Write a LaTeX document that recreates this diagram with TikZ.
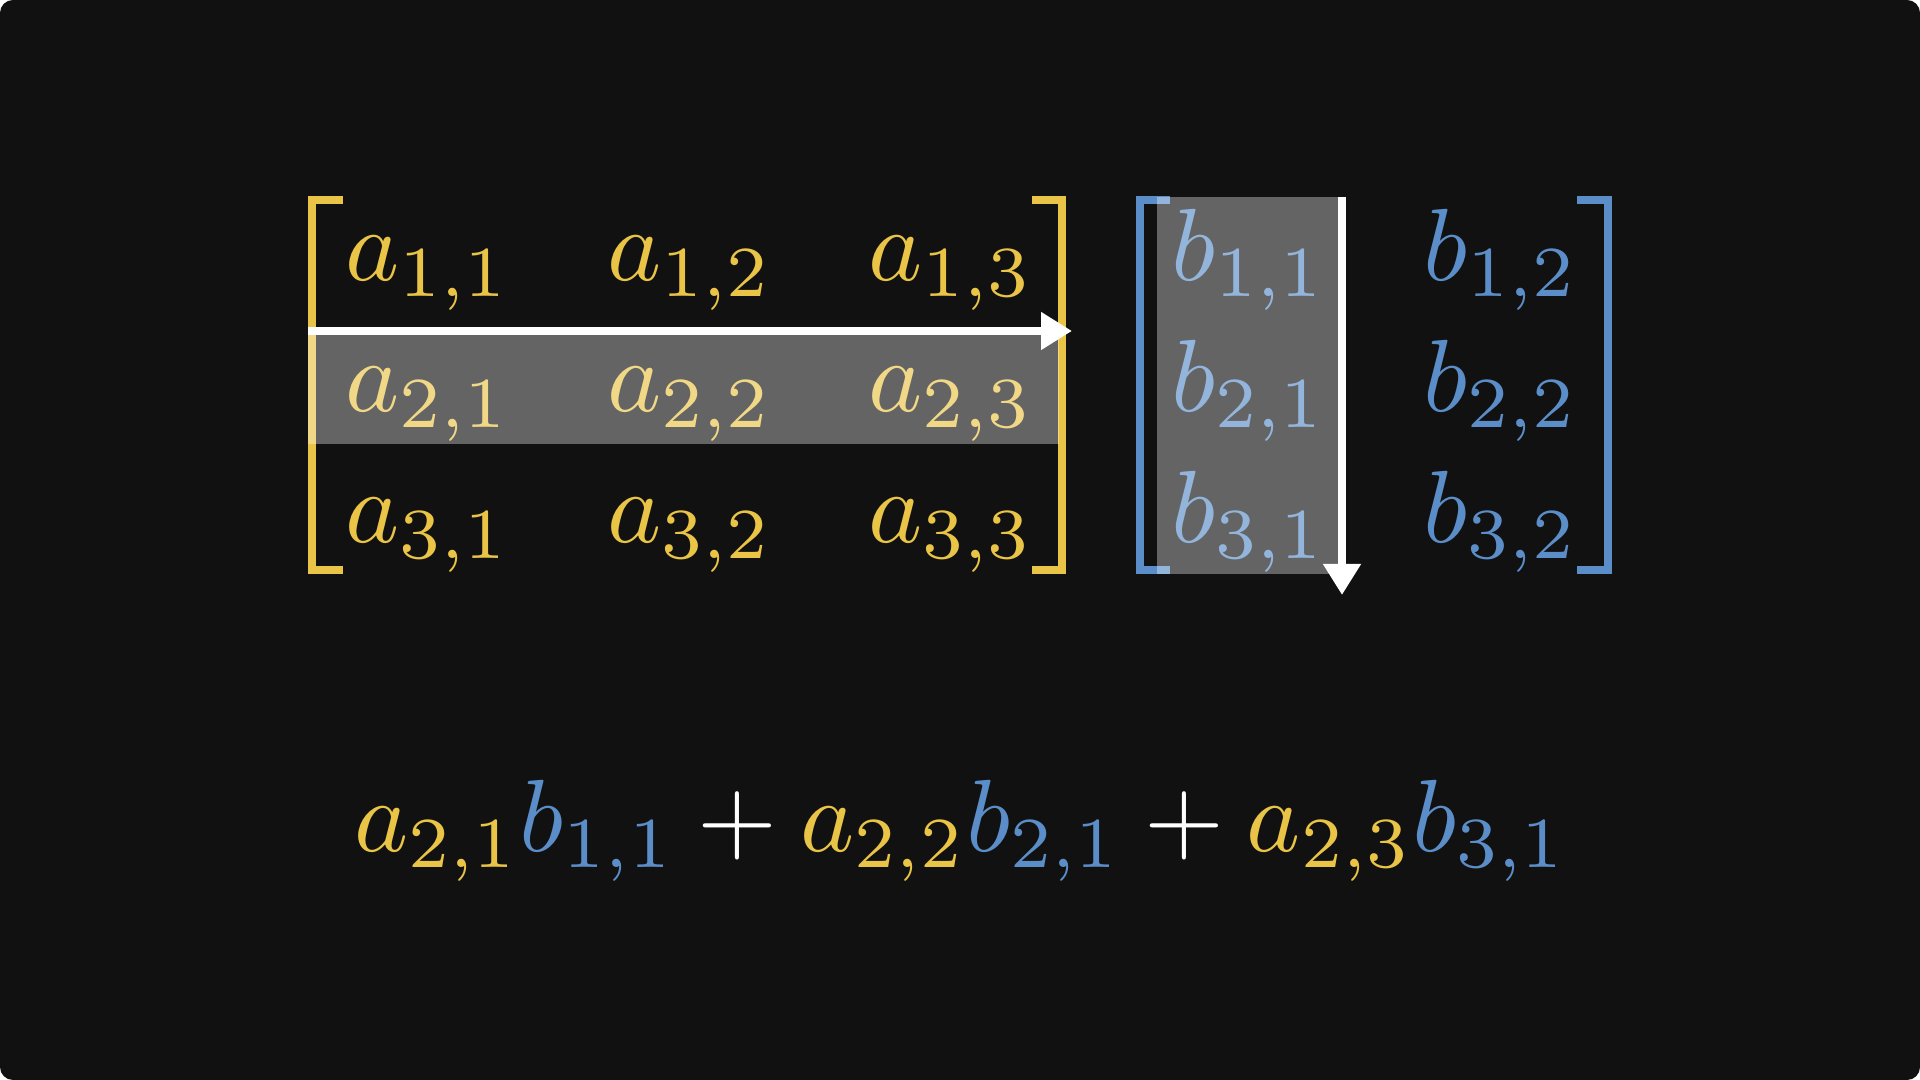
\documentclass[tikz,border=0pt]{standalone}
\usepackage{amsmath}
\usetikzlibrary{arrows.meta}
\definecolor{ayellow}{HTML}{E9C446}
\definecolor{bblue}{HTML}{5B8EC8}
\definecolor{bgdark}{HTML}{111111}
\tikzset{
  entry/.style={anchor=base, inner sep=0pt, scale=2.92},
  bracket/.style={line width=0.08cm},
  highlight/.style={fill=white, fill opacity=0.35},
  sweep/.style={white, line width=0.08cm, -{Triangle[length=0.31cm,width=0.36cm]}}
}
\begin{document}
\begin{tikzpicture}
\useasboundingbox (0,0) rectangle (19.2,10.8);
\fill[bgdark, rounded corners=0.13cm] (0,0) rectangle (19.2,10.8);
% matrix A
\draw[bracket, ayellow] (3.43,8.80) -- (3.12,8.80) -- (3.12,5.10) -- (3.43,5.10);
\draw[bracket, ayellow] (10.32,8.80) -- (10.62,8.80) -- (10.62,5.10) -- (10.32,5.10);
\node[entry, text=ayellow] (a11) at (4.28,7.99) {$a_{1,1}$};
\node[entry, text=ayellow] (a12) at (6.90,7.99) {$a_{1,2}$};
\node[entry, text=ayellow] (a13) at (9.51,7.99) {$a_{1,3}$};
\node[entry, text=ayellow] (a21) at (4.28,6.68) {$a_{2,1}$};
\node[entry, text=ayellow] (a22) at (6.90,6.68) {$a_{2,2}$};
\node[entry, text=ayellow] (a23) at (9.51,6.68) {$a_{2,3}$};
\node[entry, text=ayellow] (a31) at (4.28,5.37) {$a_{3,1}$};
\node[entry, text=ayellow] (a32) at (6.90,5.37) {$a_{3,2}$};
\node[entry, text=ayellow] (a33) at (9.51,5.37) {$a_{3,3}$};
% matrix B
\draw[bracket, bblue] (11.70,8.80) -- (11.40,8.80) -- (11.40,5.10) -- (11.70,5.10);
\draw[bracket, bblue] (15.77,8.80) -- (16.08,8.80) -- (16.08,5.10) -- (15.77,5.10);
\node[entry, text=bblue] (b11) at (12.49,7.99) {$b_{1,1}$};
\node[entry, text=bblue] (b12) at (15.01,7.99) {$b_{1,2}$};
\node[entry, text=bblue] (b21) at (12.49,6.68) {$b_{2,1}$};
\node[entry, text=bblue] (b22) at (15.01,6.68) {$b_{2,2}$};
\node[entry, text=bblue] (b31) at (12.49,5.37) {$b_{3,1}$};
\node[entry, text=bblue] (b32) at (15.01,5.37) {$b_{3,2}$};
% row and column highlights
\fill[highlight] (3.08,7.46) rectangle (10.59,6.36);
\fill[highlight] (11.57,8.83) rectangle (13.38,5.06);
\coordinate (rowstart) at (3.08,7.49);
\coordinate (rowend) at (10.72,7.49);
\coordinate (colstart) at (13.42,8.83);
\coordinate (colend) at (13.42,4.85);
\draw[sweep] (rowstart) -- (rowend);
\draw[sweep] (colstart) -- (colend);
% dot product
\node[entry, text=white] (sum) at (9.61,2.28) {$\textcolor{ayellow}{a_{2,1}}\textcolor{bblue}{b_{1,1}} + \textcolor{ayellow}{a_{2,2}}\textcolor{bblue}{b_{2,1}} + \textcolor{ayellow}{a_{2,3}}\textcolor{bblue}{b_{3,1}}$};
\end{tikzpicture}
\end{document}
